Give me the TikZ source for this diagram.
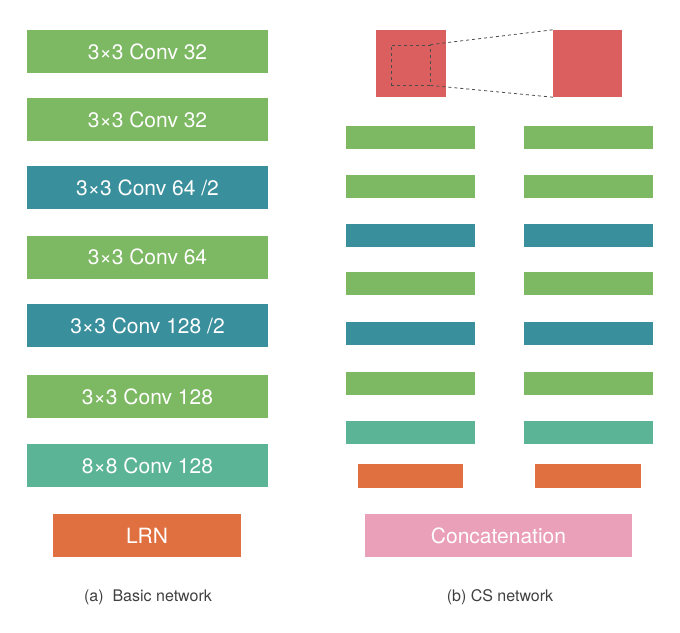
\documentclass[tikz,border=0pt]{standalone}
\usepackage{fontspec}
\setmainfont{TeX Gyre Heros}
\begin{document}
\definecolor{cg}{HTML}{7DB863}
\definecolor{cb}{HTML}{3A8F9C}
\definecolor{ct}{HTML}{5BB495}
\definecolor{co}{HTML}{E07040}
\definecolor{cr}{HTML}{DC5F60}
\definecolor{cp}{HTML}{EAA0B8}
\begin{tikzpicture}[x=1pt,y=-1pt,
  box/.style={draw=none,minimum width=241pt,minimum height=43pt,inner sep=0pt,text=white,font=\fontsize{21}{24}\selectfont},
  bar/.style={draw=none,minimum width=129pt,minimum height=23pt,inner sep=0pt},
  captxt/.style={text=black!75,font=\fontsize{16}{19}\selectfont}]
\useasboundingbox (0,0) rectangle (680,632);
\node[box,fill=cg] (a1) at (147.5,51.5) {3×3 Conv 32};
\node[box,fill=cg] (a2) at (147.5,119.5) {3×3 Conv 32};
\node[box,fill=cb] (a3) at (147.5,187.5) {3×3 Conv 64 /2};
\node[box,fill=cg] (a4) at (147.5,257) {3×3 Conv 64};
\node[box,fill=cb] (a5) at (147.5,325.5) {3×3 Conv 128 /2};
\node[box,fill=cg] (a6) at (147.5,396.5) {3×3 Conv 128};
\node[box,fill=ct] (a7) at (147.5,465.5) {8×8 Conv 128};
\node[box,fill=co,minimum width=188pt] (lrn) at (147,535.5) {LRN};
\node[captxt] (ca) at (148,597) {(a)\ \ Basic network};
% right
\node[fill=cr,minimum width=70pt,minimum height=67pt,inner sep=0pt] (s1) at (411,63.5) {};
\node[draw=black!70,dashed,thick,minimum width=39pt,minimum height=40pt,inner sep=0pt] (in) at (410.5,65) {};
\node[fill=cr,minimum width=69pt,minimum height=67pt,inner sep=0pt] (s2) at (587.5,63.5) {};
\draw[black!70,dashed,thick] (in.north east) -- (s2.north west);
\draw[black!70,dashed,thick] (in.south east) -- (s2.south west);
\foreach \y/\c [count=\i] in {137.5/cg,186.5/cg,235.5/cb,283.5/cg,333.5/cb,383.5/cg,432.5/ct}{
  \node[bar,fill=\c] (l\i) at (410.5,\y) {};
  \node[bar,fill=\c] (r\i) at (588,\y) {};
}
\node[bar,fill=co,minimum width=105pt,minimum height=24pt] (lo) at (410.5,476) {};
\node[bar,fill=co,minimum width=106pt,minimum height=24pt] (ro) at (588,476) {};
\node[box,fill=cp,minimum width=267pt] (cc) at (498.5,535.5) {Concatenation};
\node[captxt] (cb) at (500,597) {(b) CS network};
\end{tikzpicture}
\end{document}
